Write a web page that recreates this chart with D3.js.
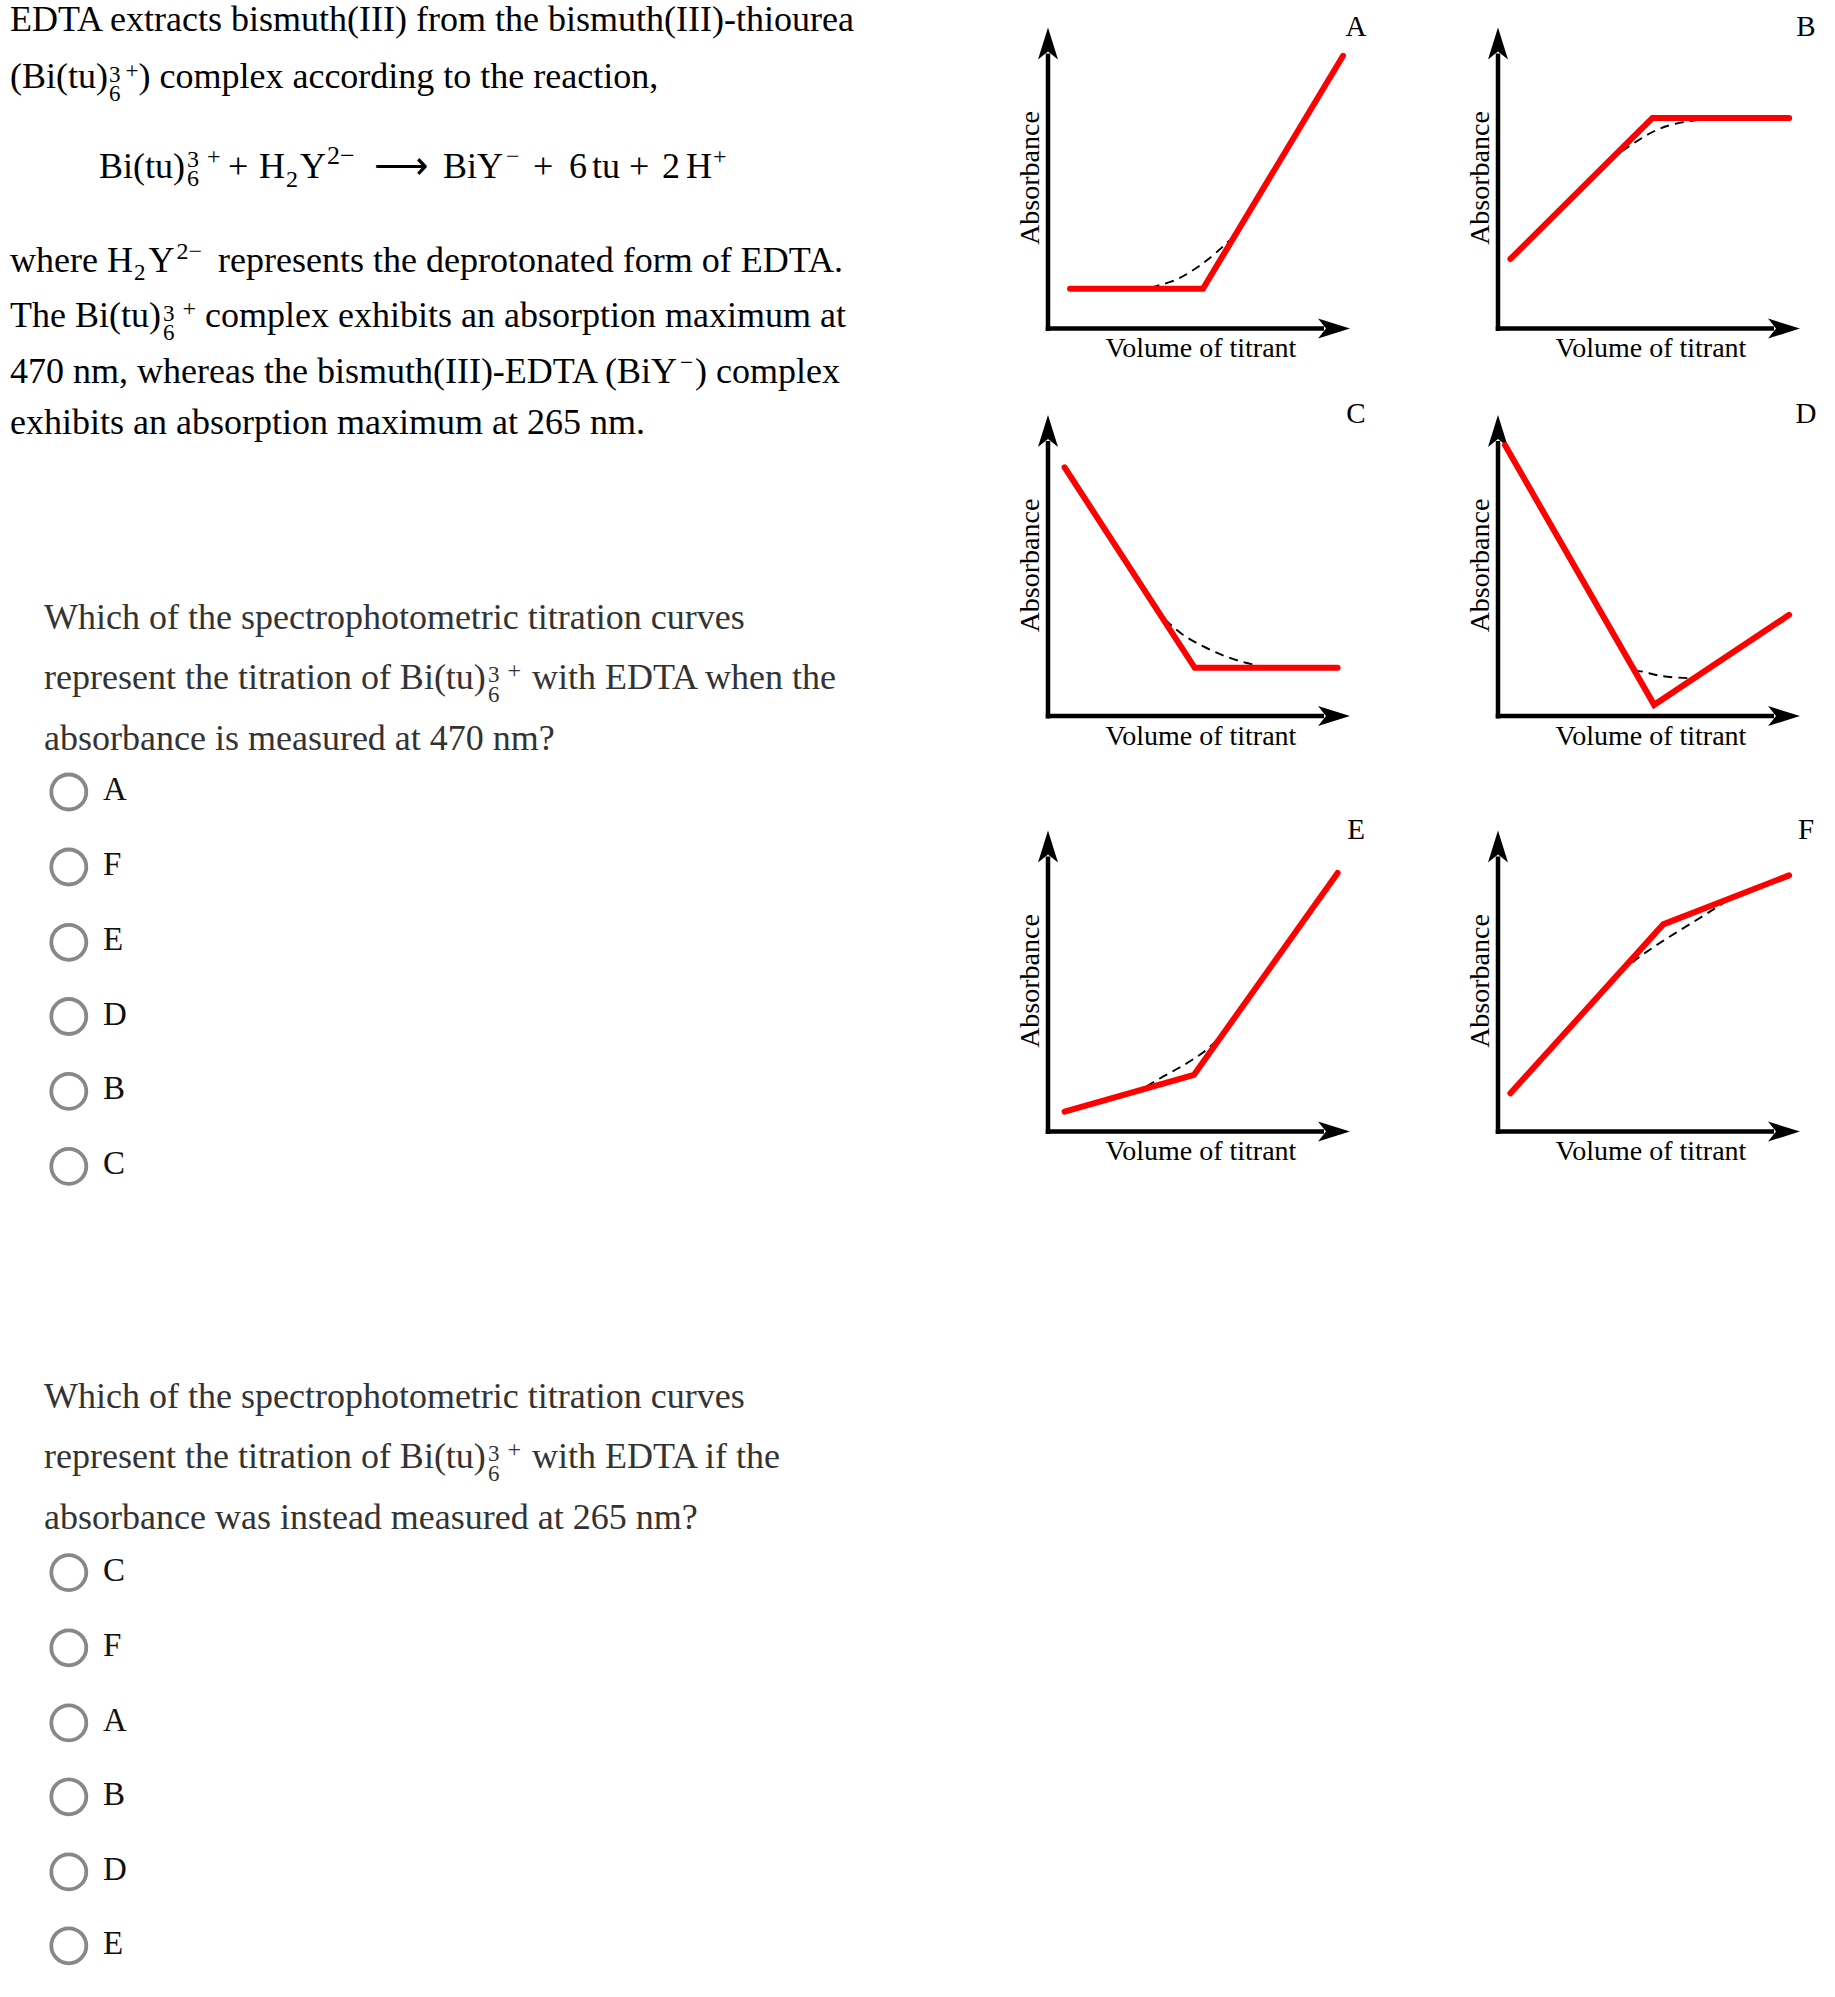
<!DOCTYPE html>
<html><head><meta charset="utf-8">
<script src="https://cdn.jsdelivr.net/npm/d3@7"></script>
<style>
html,body{margin:0;padding:0;background:#fff;}
svg text{font-family:"Liberation Serif","Times New Roman",serif;white-space:pre;}
</style></head>
<body>
<svg id="c" width="1835" height="1997"></svg>
<script>
// ---------------- DATA ----------------
const panelNames = ["A","B","C","D","E","F"];
// red titration curves (Volume of titrant, Absorbance), arbitrary 0-10 units
const curveA = [[0.73,1.32],[5.13,1.32],[9.77,9.06]];
const curveB = [[0.41,2.31],[5.11,6.99],[9.64,6.99]];
const curveC = [[0.55,8.26],[4.86,1.60],[9.59,1.60]];
const curveD = [[0.23,9.00],[5.17,0.37],[9.64,3.36]];
const curveE = [[0.55,0.66],[4.83,1.88],[9.59,8.59]];
const curveF = [[0.41,1.27],[5.47,6.88],[9.64,8.51]];
// dashed (real) curves near the end point
const dashA = [[3.40,1.36],[4.15,1.56],[4.60,1.80],[5.05,2.10],[5.50,2.45],[6.00,2.92]];
const dashB = [[3.70,5.60],[4.40,6.10],[5.10,6.55],[5.80,6.82],[6.90,6.97]];
const dashC = [[3.88,3.20],[4.43,2.69],[5.14,2.30],[5.87,1.97],[6.58,1.75],[7.10,1.64]];
const dashD = [[4.50,1.50],[4.76,1.50],[5.29,1.33],[5.83,1.28],[6.40,1.25]];
const dashE = [[3.26,1.50],[3.79,1.82],[4.33,2.10],[4.86,2.43],[5.40,2.80],[5.90,3.42]];
const dashF = [[3.70,4.95],[4.40,5.60],[5.10,6.10],[5.80,6.55],[6.70,7.10],[7.69,7.74]];
const curves = [curveA,curveB,curveC,curveD,curveE,curveF];
const dashes = [dashA,dashB,dashC,dashD,dashE,dashF];
const xLabel = "Volume of titrant";
const yLabel = "Absorbance";
const q1Options = ["A","F","E","D","B","C"];
const q2Options = ["C","F","A","B","D","E"];

// ---------------- DRAW ----------------
const svg = d3.select("#c");
svg.append("rect").attr("width",1835).attr("height",1997).attr("fill","#fff");

function runs(parent, x0, y0, items, o){
  let x = x0;
  const fs=o.fs, sfs=o.sfs, col=o.color||"#000";
  const mk=(xx,yy,s,t)=>parent.append("text").attr("x",xx).attr("y",yy)
      .style("font-size",s+"px").attr("fill",col).text(t);
  items.forEach(it=>{
    if(it.x!==undefined) x=it.x;
    x += (it.gap||0);
    let w=0;
    if(it.k==="n"||!it.k){ const t=mk(x,y0,it.fs||fs,it.t); w=t.node().getComputedTextLength(); }
    else if(it.k==="p"){ const t=mk(x,y0-(it.up||o.up),it.fs||sfs,it.t); w=t.node().getComputedTextLength(); }
    else if(it.k==="b"){ const t=mk(x,y0+(it.down||o.down),it.fs||sfs,it.t); w=t.node().getComputedTextLength(); }
    else if(it.k==="s"){ const a=mk(x,y0-(it.up||o.sup),sfs,it.t[0]); const b=mk(x,y0+(it.down||o.sdown),sfs,it.t[1]);
      w=Math.max(a.node().getComputedTextLength(),b.node().getComputedTextLength()); }
    x+=w;
  });
}

const P = {fs:36, sfs:23, up:13, down:8, sup:6, sdown:13};
const G = svg.append("g");
runs(G,10,31,[{t:"EDTA extracts bismuth(III) from the bismuth(III)-thiourea"}],P);
runs(G,10,88,[{t:"(Bi(tu)"},{k:"s",t:["3","6"],gap:1},{k:"p",t:"+",gap:5,up:10},{t:")"},{t:" complex according to the reaction,"}],P);
const E = {fs:36, sfs:24, up:14, down:9, sup:11, sdown:8};
runs(G,99,178,[{t:"Bi(tu)"},{k:"s",t:["3","6"],gap:2},{k:"p",t:"+",x:207},{t:"+",x:228},
  {t:"H",x:259},{k:"b",t:"2",gap:1},{t:"Y",gap:2},{k:"p",t:"2\u2212",gap:1,fs:26},
  {t:"\u27F6",x:374,fs:38},{t:"BiY",x:443},{k:"p",t:"\u2212",gap:3},{t:"+",x:533},
  {t:"6",x:569},{t:"tu",x:592},{t:"+",x:629},{t:"2",x:662},{t:"H",x:686},{k:"p",t:"+",gap:1}],E);
runs(G,10,272,[{t:"where H"},{k:"b",t:"2",gap:1},{t:"Y",gap:3},{k:"p",t:"2\u2212",gap:2,fs:24},{t:" represents the deprotonated form of EDTA.",gap:7}],P);
runs(G,10,327,[{t:"The Bi(tu)"},{k:"s",t:["3","6"],gap:2},{k:"p",t:"+",gap:8,up:11,fs:24},{t:" complex exhibits an absorption maximum at",gap:0}],P);
runs(G,10,383,[{t:"470 nm, whereas the bismuth(III)-EDTA (BiY"},{k:"p",t:"\u2212",gap:3},{t:")",gap:2},{t:" complex"}],P);
runs(G,10,434,[{t:"exhibits an absorption maximum at 265 nm."}],P);

// questions
const Q = {fs:36, sfs:23, up:13, down:8, sup:7, sdown:13, color:"#333"};
function question(y, l3, l2tail, opts, cys){
  runs(G,44,y,[{t:"Which of the spectrophotometric titration curves"}],Q);
  runs(G,44,y+60,[{t:"represent the titration of Bi(tu)"},{k:"s",t:["3","6"],gap:2},{k:"p",t:"+",gap:8,up:11,fs:24},{t:l2tail,gap:2}],Q);
  runs(G,44,y+121,[{t:l3}],Q);
  opts.forEach((o,i)=>{
    G.append("circle").attr("cx",68.8).attr("cy",cys[i]).attr("r",17.5)
      .attr("fill","#fff").attr("stroke","#888").attr("stroke-width",3.8);
    G.append("text").attr("x",103).attr("y",cys[i]+8).style("font-size","33px").attr("fill","#111").text(o);
  });
}
question(629,"absorbance is measured at 470 nm?"," with EDTA when the",q1Options,[792,867,942.3,1016.5,1091.4,1166.4]);
question(1408,"absorbance was instead measured at 265 nm?"," with EDTA if the",q2Options,[1572.6,1647.8,1722.9,1796.8,1871.9,1945.8]);

// charts
const colX=[1048,1498], rowY=[328.5,716,1131.5], AW=302, AH=301;
const arrowUp = (x,y)=>`M${x},${y} L${x-10},${y+32} L${x},${y+24} L${x+10},${y+32} Z`;
const arrowRight = (x,y)=>`M${x},${y} L${x-32},${y-10} L${x-24},${y} L${x-32},${y+10} Z`;
panelNames.forEach((name,i)=>{
  const ox=colX[i%2], oy=rowY[Math.floor(i/2)];
  const x=d3.scaleLinear().domain([0,10]).range([ox,ox+AW]);
  const y=d3.scaleLinear().domain([0,10]).range([oy,oy-AH]);
  const g=svg.append("g");
  // axes
  g.append("line").attr("x1",x(0)).attr("y1",y(0)+2.5).attr("x2",x(0)).attr("y2",y(10)+26)
    .attr("stroke","#000").attr("stroke-width",4.5);
  g.append("line").attr("x1",x(0)-2.25).attr("y1",y(0)).attr("x2",x(10)-26).attr("y2",y(0))
    .attr("stroke","#000").attr("stroke-width",4.5);
  g.append("path").attr("d",arrowUp(x(0),y(10))).attr("fill","#000");
  g.append("path").attr("d",arrowRight(x(10),y(0))).attr("fill","#000");
  // labels
  g.append("text").attr("transform",`translate(${x(0)-9},${(y(0)+y(10))/2}) rotate(-90)`)
    .attr("text-anchor","middle").style("font-size","28px").text(yLabel);
  g.append("text").attr("x",(x(0)+x(10))/2+2).attr("y",y(0)+28.5)
    .attr("text-anchor","middle").style("font-size","28px").text(xLabel);
  g.append("text").attr("x",x(0)+308).attr("y",y(10)+8).attr("text-anchor","middle")
    .style("font-size","29px").text(name);
  // dashed true curve
  g.append("path").attr("d",d3.line().x(d=>x(d[0])).y(d=>y(d[1])).curve(d3.curveBasis)(dashes[i]))
    .attr("fill","none").attr("stroke","#000").attr("stroke-width",1.9).attr("stroke-dasharray","9,6");
  // red idealised curve
  g.append("path").attr("d",d3.line().x(d=>x(d[0])).y(d=>y(d[1]))(curves[i]))
    .attr("fill","none").attr("stroke","#ff0000").attr("stroke-width",6)
    .attr("stroke-linecap","round").attr("stroke-linejoin","miter");
});
</script>
</body></html>
